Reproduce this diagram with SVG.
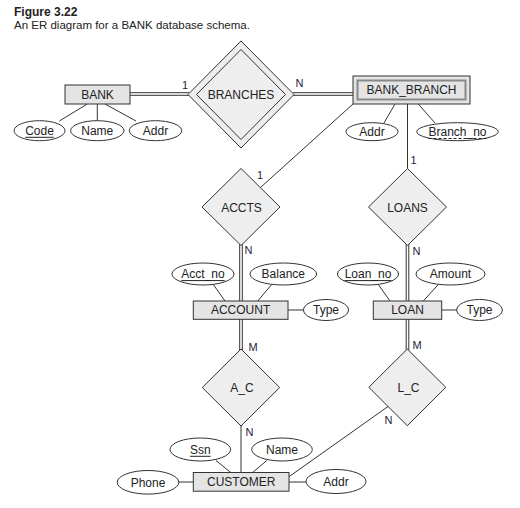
<svg xmlns="http://www.w3.org/2000/svg" width="520" height="508" viewBox="0 0 520 508">
<style>
text{font-family:"Liberation Sans",Arial,Helvetica,sans-serif;fill:#222;}
.lbl{font-size:12px;text-anchor:middle;}
.card{font-size:11px;text-anchor:middle;fill:#1e2440;}
.ent{fill:#e4e4e4;stroke:#333;stroke-width:1;}
.rel{fill:#eeeeee;stroke:#333;stroke-width:1;}
.att{fill:#fff;stroke:#333;stroke-width:1;}
.ln{stroke:#333;stroke-width:1;fill:none;}
.ul{stroke:#222;stroke-width:1;}
</style>
<rect width="520" height="508" fill="#fff"/>
<text x="14" y="15.5" style="font-size:12px;font-weight:bold">Figure 3.22</text>
<text x="14" y="29" style="font-size:11.5px">An ER diagram for a BANK database schema.</text>

<g id="connectors">
<!-- BANK - BRANCHES double -->
<line class="ln" x1="130" y1="92.7" x2="189" y2="92.7"/>
<line class="ln" x1="130" y1="95.3" x2="189" y2="95.3"/>
<!-- BRANCHES - BANK_BRANCH double -->
<line class="ln" x1="293" y1="92.7" x2="353" y2="92.7"/>
<line class="ln" x1="293" y1="95.3" x2="353" y2="95.3"/>
<!-- BANK attrs -->
<line class="ln" x1="87.3" y1="104" x2="59.3" y2="121"/>
<line class="ln" x1="97.3" y1="104" x2="97.3" y2="120.7"/>
<line class="ln" x1="105" y1="104" x2="136" y2="121"/>
<!-- BANK_BRANCH attrs -->
<line class="ln" x1="395" y1="104" x2="384" y2="123"/>
<line class="ln" x1="418.3" y1="104" x2="435" y2="123"/>
<!-- BANK_BRANCH - ACCTS -->
<line class="ln" x1="353" y1="104" x2="260.5" y2="187.5"/>
<!-- BANK_BRANCH - LOANS -->
<line class="ln" x1="407.5" y1="104" x2="407.5" y2="168.5"/>
<!-- ACCTS - ACCOUNT double -->
<line class="ln" x1="239.7" y1="244" x2="239.7" y2="301"/>
<line class="ln" x1="242.3" y1="244" x2="242.3" y2="301"/>
<!-- LOANS - LOAN double -->
<line class="ln" x1="406.2" y1="244" x2="406.2" y2="301"/>
<line class="ln" x1="408.8" y1="244" x2="408.8" y2="301"/>
<!-- ACCOUNT attrs -->
<line class="ln" x1="213.3" y1="284.5" x2="225" y2="301"/>
<line class="ln" x1="271.7" y1="284.5" x2="257.7" y2="301"/>
<line class="ln" x1="288" y1="310" x2="303.5" y2="310"/>
<!-- LOAN attrs -->
<line class="ln" x1="378.3" y1="284.5" x2="390" y2="301"/>
<line class="ln" x1="438.3" y1="284.5" x2="423.3" y2="301"/>
<line class="ln" x1="442" y1="310" x2="457" y2="310"/>
<!-- ACCOUNT - A_C double -->
<line class="ln" x1="239.7" y1="319" x2="239.7" y2="350"/>
<line class="ln" x1="242.3" y1="319" x2="242.3" y2="350"/>
<!-- LOAN - L_C double -->
<line class="ln" x1="406.2" y1="319" x2="406.2" y2="350"/>
<line class="ln" x1="408.8" y1="319" x2="408.8" y2="350"/>
<!-- A_C - CUSTOMER -->
<line class="ln" x1="241" y1="426" x2="241" y2="472.5"/>
<!-- L_C - CUSTOMER -->
<line class="ln" x1="388" y1="406.5" x2="289" y2="476.7"/>
<!-- CUSTOMER attrs -->
<line class="ln" x1="216" y1="460.5" x2="230.7" y2="472.5"/>
<line class="ln" x1="266.7" y1="460.5" x2="252.7" y2="472.5"/>
<line class="ln" x1="179" y1="482" x2="193.3" y2="482"/>
<line class="ln" x1="289" y1="482" x2="306" y2="482"/>
</g>

<g id="BANK">
<rect class="ent" x="65" y="85" width="65" height="19"/>
<text class="lbl" x="97.5" y="98.6">BANK</text>
</g>
<g id="BANK_Code">
<ellipse class="att" cx="39.5" cy="130.7" rx="25.5" ry="10"/>
<text class="lbl" x="39.5" y="135">Code</text>
<line class="ul" x1="25.2" y1="137.3" x2="53.8" y2="137.3"/>
</g>
<g id="BANK_Name">
<ellipse class="att" cx="97.3" cy="130.7" rx="26.7" ry="10"/>
<text class="lbl" x="97.3" y="135">Name</text>
</g>
<g id="BANK_Addr">
<ellipse class="att" cx="155.5" cy="130.7" rx="26.2" ry="10"/>
<text class="lbl" x="155.5" y="135">Addr</text>
</g>

<g id="BRANCHES">
<polygon class="rel" points="241,41 294,94.5 241,148 188,94.5"/>
<polygon fill="none" stroke="#333" stroke-width="1" points="241,49.5 285.5,94.5 241,139.5 196.5,94.5"/>
<text class="lbl" x="241" y="98.8">BRANCHES</text>
</g>
<text class="card" x="185" y="89">1</text>
<text class="card" x="299.5" y="87.3">N</text>

<g id="BANK_BRANCH">
<rect class="ent" x="353" y="76" width="117" height="28"/>
<rect fill="#e4e4e4" stroke="#888" stroke-width="2" x="357.5" y="80.5" width="108" height="19"/>
<text class="lbl" x="411.5" y="94.3">BANK_BRANCH</text>
</g>
<g id="BB_Addr">
<ellipse class="att" cx="372" cy="131.7" rx="26" ry="9"/>
<text class="lbl" x="372" y="136">Addr</text>
</g>
<g id="BB_Branch_no">
<ellipse class="att" cx="457.5" cy="131.7" rx="40.8" ry="9"/>
<text class="lbl" x="457.5" y="136">Branch_no</text>
<line class="ul" x1="428.5" y1="138.5" x2="486.5" y2="138.5" stroke-dasharray="3,2"/>
</g>

<g id="ACCTS">
<polygon class="rel" points="241,168.5 280,207 241,245.5 202,207"/>
<text class="lbl" x="241.5" y="212">ACCTS</text>
</g>
<text class="card" x="260" y="179">1</text>
<text class="card" x="248.5" y="254">N</text>

<g id="LOANS">
<polygon class="rel" points="407.5,168.5 446.5,207 407.5,245.5 368.5,207"/>
<text class="lbl" x="407.5" y="212">LOANS</text>
</g>
<text class="card" x="413.5" y="164">1</text>
<text class="card" x="416.5" y="254.5">N</text>

<g id="ACCOUNT">
<rect class="ent" x="193.3" y="301" width="94.7" height="18.3"/>
<text class="lbl" x="240.6" y="314.3">ACCOUNT</text>
</g>
<g id="ACC_Acct_no">
<ellipse class="att" cx="203" cy="274" rx="31" ry="11"/>
<text class="lbl" x="203" y="278.3">Acct_no</text>
<line class="ul" x1="181.3" y1="280.6" x2="224.7" y2="280.6"/>
</g>
<g id="ACC_Balance">
<ellipse class="att" cx="283.3" cy="274" rx="33.3" ry="11"/>
<text class="lbl" x="283.3" y="278.3">Balance</text>
</g>
<g id="ACC_Type">
<ellipse class="att" cx="326" cy="310" rx="22.5" ry="10.5"/>
<text class="lbl" x="326" y="314.3">Type</text>
</g>

<g id="LOAN">
<rect class="ent" x="373.3" y="301" width="68.4" height="18.3"/>
<text class="lbl" x="407.5" y="314.3">LOAN</text>
</g>
<g id="LOAN_Loan_no">
<ellipse class="att" cx="368" cy="274" rx="30.5" ry="11"/>
<text class="lbl" x="368" y="278.3">Loan_no</text>
<line class="ul" x1="344.7" y1="280.6" x2="391.3" y2="280.6"/>
</g>
<g id="LOAN_Amount">
<ellipse class="att" cx="450.5" cy="274" rx="34.5" ry="11"/>
<text class="lbl" x="450.5" y="278.3">Amount</text>
</g>
<g id="LOAN_Type">
<ellipse class="att" cx="479.5" cy="310" rx="22.8" ry="10.5"/>
<text class="lbl" x="479.5" y="314.3">Type</text>
</g>

<g id="A_C">
<polygon class="rel" points="241,349 279.7,387.5 241,426 202.3,387.5"/>
<text class="lbl" x="242" y="391.8">A_C</text>
</g>
<text class="card" x="253" y="350.5">M</text>
<text class="card" x="249.5" y="435.5">N</text>

<g id="L_C">
<polygon class="rel" points="407.3,349 445.8,387.3 407.3,425.7 368.8,387.3"/>
<text class="lbl" x="408.5" y="391.6">L_C</text>
</g>
<text class="card" x="417" y="349">M</text>
<text class="card" x="388.5" y="424">N</text>

<g id="CUSTOMER">
<rect class="ent" x="193.3" y="472.5" width="95.7" height="18.7"/>
<text class="lbl" x="241.2" y="486">CUSTOMER</text>
</g>
<g id="CUST_Ssn">
<ellipse class="att" cx="200.3" cy="449.5" rx="30.3" ry="11.5"/>
<text class="lbl" x="200.3" y="453.8">Ssn</text>
<line class="ul" x1="190" y1="456.3" x2="210.6" y2="456.3"/>
</g>
<g id="CUST_Name">
<ellipse class="att" cx="282" cy="449.5" rx="30.3" ry="11.5"/>
<text class="lbl" x="282" y="453.8">Name</text>
</g>
<g id="CUST_Phone">
<ellipse class="att" cx="148" cy="482.3" rx="30.8" ry="11.8"/>
<text class="lbl" x="148" y="486.6">Phone</text>
</g>
<g id="CUST_Addr">
<ellipse class="att" cx="336" cy="481.5" rx="30" ry="12"/>
<text class="lbl" x="336" y="485.8">Addr</text>
</g>
</svg>
